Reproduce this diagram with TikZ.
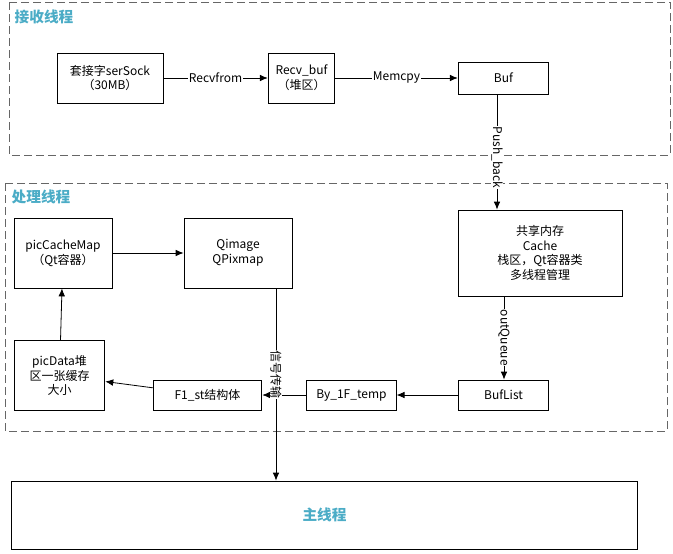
\documentclass[tikz,border=0pt]{standalone}
\usepackage{fontspec}
\setmainfont{Noto Sans CJK SC}
\usetikzlibrary{arrows.meta}
\definecolor{titleblue}{RGB}{75,172,198}
\tikzset{
  box/.style = {draw, semithick, inner sep=0pt, align=center, font=\fontsize{9}{11}\selectfont},
  group/.style = {draw=gray!80!black, semithick, dash pattern=on 6pt off 3pt},
  title/.style = {anchor=west, text=titleblue, font=\fontsize{11}{12}\selectfont\bfseries},
  flow/.style = {semithick, -{Latex[length=6pt,width=5pt]}},
  lab/.style = {fill=white, inner sep=0.5pt, font=\fontsize{9}{11}\selectfont},
  vlab/.style = {lab, rotate=-90}
}
\begin{document}
\begin{tikzpicture}[x=0.75pt, y=-0.75pt]
        \useasboundingbox (0,0) rectangle (673,553);
        
        % thread groups
        \draw[group] (9,2) rectangle (670,155);
        \node[title] at (10,17) {接收线程};
        \draw[group] (5,183) rectangle (667,431);
        \node[title] at (7,197) {处理线程};
        
        % receiving thread
        \node[box, minimum width=79.5pt, minimum height=37.5pt] (sock) at (110,78) {套接字serSock\\（30MB）};
        \node[box, minimum width=50pt, minimum height=37.5pt] (recv) at (301.5,78) {Recv\_buf\\（堆区）};
        \node[box, minimum width=68pt, minimum height=24pt] (buf) at (503.5,78) {Buf};
        
        % processing thread
        \node[box, minimum width=123pt, minimum height=64.5pt] (cache) at (540,253) {共享内存\\Cache\\栈区，Qt容器类\\多线程管理};
        \node[box, minimum width=73.5pt, minimum height=52.5pt] (map) at (63,253) {picCacheMap\\（Qt容器）};
        \node[box, minimum width=81pt, minimum height=52.5pt] (qimg) at (238,253) {Qimage\\QPixmap};
        \node[box, minimum width=68pt, minimum height=52pt] (pdata) at (59.5,375.5) {picData堆\\区一张缓存\\大小};
        \node[box, minimum width=81.5pt, minimum height=22.5pt] (f1) at (207.5,395) {F1\_st结构体};
        \node[box, minimum width=67pt, minimum height=22.5pt] (by) at (351.5,395) {By\_1F\_temp};
        \node[box, minimum width=68pt, minimum height=22.5pt] (blist) at (503.5,395) {BufList};
        
        % main thread
        \node[box, minimum width=469pt, minimum height=51pt, text=titleblue, font=\fontsize{11}{12}\selectfont\bfseries] (main) at (324.5,515) {主线程};
        \coordinate (sig) at (276,288);
        \coordinate (push) at (497,94);
        \coordinate (outq) at (504,296);
        
        % connectors
        \draw[flow] (sock) -- node[lab] {Recvfrom} (recv);
        \draw[flow] (recv) -- node[lab] {Memcpy} (buf);
        \draw[flow] (push) -- node[vlab, pos=0.55] {Push\_back} (push |- cache.north);
        \draw[flow] (outq) -- node[vlab] {outQueue} (outq |- blist.north);
        \draw[flow] (blist) -- (by);
        \draw[flow] (by) -- (f1);
        \draw[flow] (f1) -- (pdata);
        \draw[flow] (pdata) -- (map);
        \draw[flow] (map) -- (qimg);
        \draw[flow] (sig) -- node[vlab, pos=0.45] {信号传输} (sig |- main.north);
\end{tikzpicture}
\end{document}
